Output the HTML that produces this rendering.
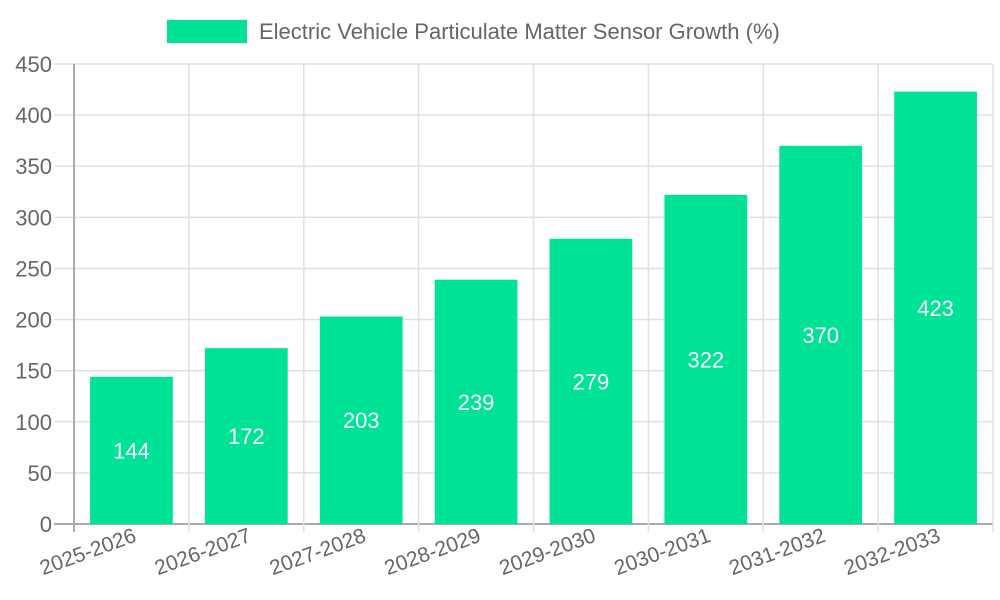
<!DOCTYPE html>
<html><head><meta charset="utf-8"><style>
body{margin:0;background:#fff;font-family:"Liberation Sans",sans-serif}
svg{display:block}
</style></head><body>
<svg id="chart" width="1000" height="600">
  <rect x="167" y="20" width="80" height="23" fill="#00e396"/>
  <text x="259" y="39" font-size="22" fill="#666">Electric Vehicle Particulate Matter Sensor Growth (%)</text>
  <g id="grid"></g><g id="bars"></g><g id="labels"></g>
</svg>
<script>
const categories=["2025-2026","2026-2027","2027-2028","2028-2029","2029-2030","2030-2031","2031-2032","2032-2033"];
const values=[144,172,203,239,279,322,370,423];
const yTicks=[0,50,100,150,200,250,300,350,400,450];
const L=74,R=993,T=64,B=524,yMax=450;
const NS="http://www.w3.org/2000/svg";
const y=v=>B-(v/yMax)*(B-T);
const bw=(R-L)/categories.length;
const x=i=>L+i*bw;
function mk(tag,attrs,parent){const e=document.createElementNS(NS,tag);for(const k in attrs)e.setAttribute(k,attrs[k]);document.getElementById(parent).appendChild(e);return e;}
yTicks.forEach(t=>{
  const g=mk("line",{x1:54,x2:R,y1:y(t),y2:y(t),stroke:t===0?"#aaa":"#e0e0e0","stroke-width":t===0?2:1.5},"grid");
  
  
  const tx=mk("text",{x:52,y:y(t)+8,"text-anchor":"end","font-size":22,fill:"#666"},"grid");
  tx.textContent=t;
  
  
});
for(let i=0;i<=categories.length;i++){
  const v=mk("line",{x1:x(i),x2:x(i),y1:T,y2:B+8,stroke:i===0?"#aaa":"#e0e0e0","stroke-width":i===0?2:1.5},"grid");
  
  
}
categories.forEach((c,i)=>{
  const cx=x(i)+bw/2,w=bw*0.72;
  const r=mk("rect",{x:cx-w/2,y:y(values[i]),width:w,height:B-y(values[i]),fill:"#00e396"},"bars");
  
  
  const vl=mk("text",{x:cx,y:(y(values[i])+B)/2+8,"text-anchor":"middle","font-size":22,fill:"#fff"},"labels");
  vl.textContent=values[i];
  
  
  const xl=mk("text",{x:0,y:0,"text-anchor":"end","font-size":21,fill:"#666",transform:`translate(${cx+6},${541}) rotate(-20)`},"labels");
  xl.textContent=c;
  
  
});
</script>
</body></html>
